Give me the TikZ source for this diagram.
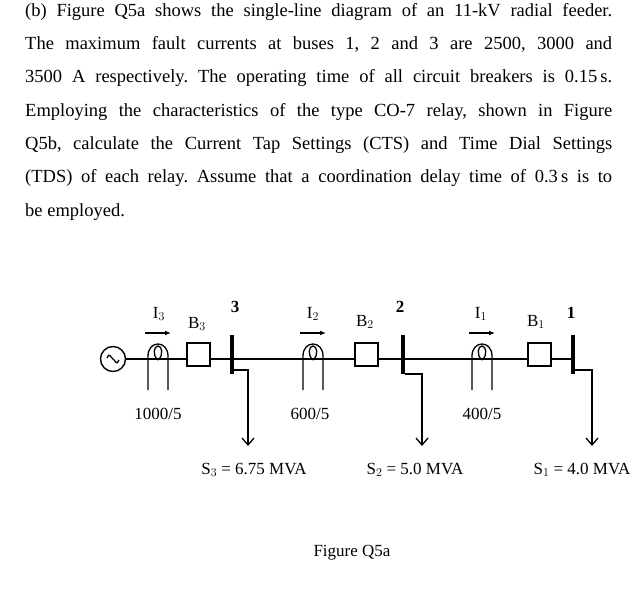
\documentclass[tikz,border=0pt]{standalone}
\usepackage{fontspec}
\setmainfont{Liberation Serif}
\usetikzlibrary{arrows.meta}
\frenchspacing
\begin{document}
\begin{tikzpicture}[x=1pt,y=-1pt,
  wire/.style={line width=1.3pt},
  busbar/.style={line width=4pt},
  brk/.style={draw,line width=1.4pt,minimum width=23pt,minimum height=23pt,fill=white,inner sep=0pt},
  lbl/.style={font=\fontsize{17}{20}\selectfont,inner sep=0pt},
  loadarr/.style={wire,-{Straight Barb[length=7pt,width=12pt]}},
  ctarr/.style={line width=1.3pt,-{Latex[length=6pt,width=5pt]}}]
\useasboundingbox (0,0) rectangle (638,591);
\node[anchor=north west,inner sep=0pt,text width=587pt,align=justify,font=\fontsize{18.5}{33.3}\selectfont] (txt) at (25,3)
{(b) Figure Q5a shows the single-line diagram of an 11-kV radial feeder.\linebreak
The maximum fault currents at buses 1, 2 and 3 are 2500, 3000 and\linebreak
3500 A respectively. The operating time of all circuit breakers is 0.15\,s.\linebreak
Employing the characteristics of the type CO-7 relay, shown in Figure\linebreak
Q5b, calculate the Current Tap Settings (CTS) and Time Dial Settings\linebreak
(TDS) of each relay. Assume that a coordination delay time of 0.3\,s is to\linebreak
be employed.\par};
% generator
\node[draw,circle,line width=1.4pt,minimum size=25pt,inner sep=0pt] (g) at (113,359) {};
\draw[line width=1.3pt] ([xshift=-6pt,yshift=1pt]g.center) .. controls +(3,-6) and +(-3,-2) .. (g.center) .. controls +(3,2) and +(-3,6) .. ([xshift=6pt,yshift=-1pt]g.center);
% buses
\coordinate (b3t) at (232,335); \coordinate (b3b) at (232,374);
\coordinate (b2t) at (403,335); \coordinate (b2b) at (403,374);
\coordinate (b1t) at (573,335); \coordinate (b1b) at (573,374);
\draw[busbar] (b3t) -- (b3b); \draw[busbar] (b2t) -- (b2b); \draw[busbar] (b1t) -- (b1b);
\coordinate (b1m) at (573,359);
\draw[wire] (g.east) -- (b1m);
\node[brk] (B3) at (198.5,354.5) {};
\node[brk] (B2) at (366.5,354.5) {};
\node[brk] (B1) at (539.5,354.5) {};
% CTs
\foreach \x/\n in {158/3,313/2,482/1}{
  \draw[wire,fill=none] (\x-10,390) -- (\x-10,356) .. controls (\x-10,340) and (\x+10,340) .. (\x+10,356) -- (\x+10,390);
  \draw[wire] (\x,360) .. controls (\x-6,355) and (\x-4,346) .. (\x,346) .. controls (\x+4,346) and (\x+6,355) .. (\x,360);
  \draw[ctarr] (\x-13,333) -- (\x+13,333);
}
% loads
\coordinate (l3a) at (234,370); \coordinate (l3b) at (248,370); \coordinate (l3c) at (248,446);
\coordinate (l2a) at (405,374); \coordinate (l2b) at (422,374); \coordinate (l2c) at (422,446);
\coordinate (l1a) at (575,370); \coordinate (l1b) at (592,370); \coordinate (l1c) at (592,446);
\draw[loadarr] (l3a) -- (l3b) -- (l3c);
\draw[loadarr] (l2a) -- (l2b) -- (l2c);
\draw[loadarr] (l1a) -- (l1b) -- (l1c);
% labels
\node[lbl] (I3) at (159,314) {I$_3$};
\node[lbl] (I2) at (313,314) {I$_2$};
\node[lbl] (I1) at (481,314) {I$_1$};
\node[lbl] (B3l) at (197,324) {B$_3$};
\node[lbl] (B2l) at (365,322) {B$_2$};
\node[lbl] (B1l) at (536,322) {B$_1$};
\node[lbl,font=\fontsize{17}{20}\selectfont\bfseries] (n3) at (235,307) {3};
\node[lbl,font=\fontsize{17}{20}\selectfont\bfseries] (n2) at (400,307) {2};
\node[lbl,font=\fontsize{17}{20}\selectfont\bfseries] (n1) at (571,313) {1};
\node[lbl] (r3) at (158,414) {1000/5};
\node[lbl] (r2) at (310,414) {600/5};
\node[lbl] (r1) at (482,414) {400/5};
\node[lbl] (S3) at (254,470) {S$_3$ = 6.75 MVA};
\node[lbl] (S2) at (415,470) {S$_2$ = 5.0 MVA};
\node[lbl] (S1) at (582,470) {S$_1$ = 4.0 MVA};
\node[lbl] (cap) at (352,553) {Figure Q5a};
\end{tikzpicture}
\end{document}
